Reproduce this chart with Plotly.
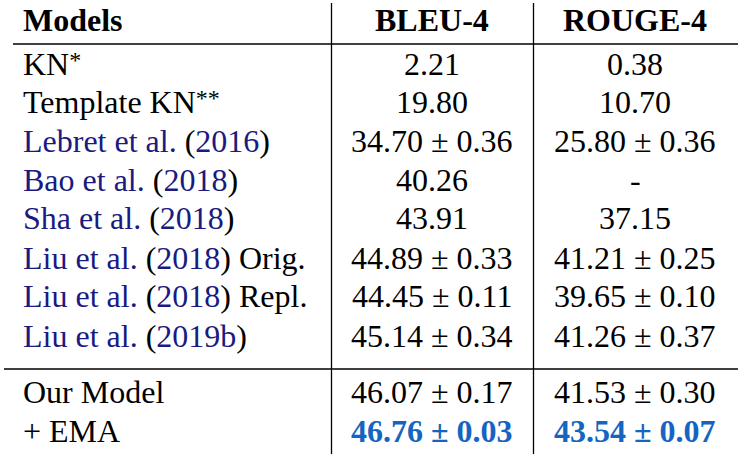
import plotly.graph_objects as go

# ---- data ----
headers = ["Models", "BLEU-4", "ROUGE-4"]
model_names = ["KN", "Template KN", "Lebret et al.", "Bao et al.", "Sha et al.",
               "Liu et al.", "Liu et al.", "Liu et al.", "Our Model", "+ EMA"]
model_sup = ["*", "**", "", "", "", "", "", "", "", ""]
model_years = ["", "", "2016", "2018", "2018", "2018", "2018", "2019b", "", ""]
model_suffix = ["", "", "", "", "", " Orig.", " Repl.", "", "", ""]
bleu4 = ["2.21", "19.80", "34.70 ± 0.36", "40.26", "43.91", "44.89 ± 0.33",
         "44.45 ± 0.11", "45.14 ± 0.34", "46.07 ± 0.17", "46.76 ± 0.03"]
rouge4 = ["0.38", "10.70", "25.80 ± 0.36", "-", "37.15", "41.21 ± 0.25",
          "39.65 ± 0.10", "41.26 ± 0.37", "41.53 ± 0.30", "43.54 ± 0.07"]
best_row = 9

W, H = 738, 454
CITE = "#1a1a80"
BEST = "#1565c0"
FONT = "Liberation Serif, Times New Roman, serif"
FS = 32

row_y = [64, 102, 141, 180, 218, 258, 296, 336, 392, 431]
header_y = 20
col_x = [22, 432, 635]

fig = go.Figure()
ann = []

def add(x, y, text, anchor):
    ann.append(dict(x=x, y=y, xref="x", yref="y", text=text, showarrow=False,
                    xanchor=anchor, yanchor="middle", borderpad=0,
                    font=dict(family=FONT, size=FS, color="black")))

for i, h in enumerate(headers):
    add(col_x[i], header_y, f"<b>{h}</b>", "left" if i == 0 else "center")

for i in range(len(model_names)):
    name = model_names[i]
    if model_years[i]:
        lab = (f"<span style='color:{CITE}'>{name}</span> "
               f"(<span style='color:{CITE}'>{model_years[i]}</span>){model_suffix[i]}")
    else:
        lab = name
        if model_sup[i]:
            lab += f"<span style='font-size:24px;baseline-shift:7px'>{model_sup[i]}</span>"
    add(col_x[0], row_y[i], lab, "left")
    b, r = bleu4[i], rouge4[i]
    if i == best_row:
        b = f"<span style='color:{BEST}'><b>{b}</b></span>"
        r = f"<span style='color:{BEST}'><b>{r}</b></span>"
    add(col_x[1], row_y[i], b, "center")
    add(col_x[2], row_y[i], r, "center")

shapes = [
    dict(type="line", x0=13, x1=W, y0=44, y1=44, line=dict(color="black", width=1.3)),
    dict(type="line", x0=4, x1=W, y0=369, y1=369, line=dict(color="black", width=1.3)),
    dict(type="line", x0=331.5, x1=331.5, y0=3, y1=H, line=dict(color="black", width=1.3)),
    dict(type="line", x0=533.5, x1=533.5, y0=3, y1=H, line=dict(color="black", width=1.3)),
]

fig.update_layout(
    width=W, height=H, margin=dict(l=0, r=0, t=0, b=0),
    paper_bgcolor="white", plot_bgcolor="white",
    font=dict(family=FONT),
    xaxis=dict(range=[0, W], visible=False, fixedrange=True),
    yaxis=dict(range=[H, 0], visible=False, fixedrange=True),
    annotations=ann, shapes=shapes, showlegend=False,
)
fig.write_html("out.html", config={"displayModeBar": False},
               post_script="document.body.style.margin='0';document.body.style.overflow='hidden';")
